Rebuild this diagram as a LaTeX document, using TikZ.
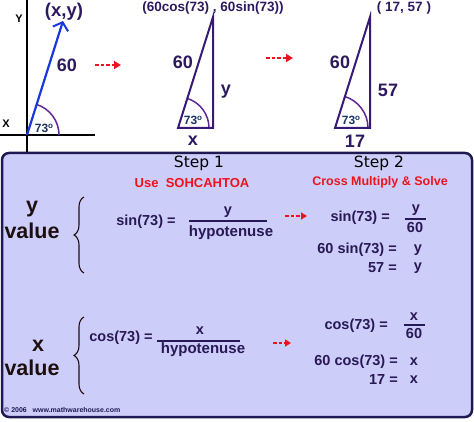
\documentclass[tikz,border=0pt]{standalone}
\usepackage{fontspec}
\setmainfont{Liberation Sans}
\newfontfamily\verd{DejaVu Sans}
\usetikzlibrary{arrows.meta,decorations.pathreplacing,calc}
\definecolor{darkp}{RGB}{45,25,95}
\definecolor{eqc}{RGB}{40,25,85}
\definecolor{angc}{RGB}{25,50,100}
\definecolor{trip}{RGB}{55,25,120}
\definecolor{arcp}{RGB}{95,40,150}
\definecolor{blk}{RGB}{30,15,15}
\definecolor{boxfill}{RGB}{205,205,250}
\definecolor{boxline}{RGB}{30,25,80}
\definecolor{arrb}{RGB}{25,55,220}
\definecolor{redc}{RGB}{235,20,30}
\newcommand{\fs}[1]{\fontsize{#1}{#1}\selectfont}
\newcommand{\degsym}{\raisebox{0.55ex}{\fs{8}o}}
\tikzset{
  txt/.style={inner sep=0pt, text=darkp, font=\bfseries\fs{18}},
  coord/.style={inner sep=0pt, text=darkp, font=\bfseries\fs{13.5}},
  ang/.style={inner sep=0pt, text=angc, font=\bfseries\fs{12}},
  eq/.style={inner sep=0pt, text=eqc, font=\bfseries\fs{14.5}},
  big/.style={inner sep=0pt, text=blk, font=\bfseries\fs{21.5}},
  steplbl/.style={inner sep=0pt, text=black, font=\verd\fs{15.5}},
  redlbl/.style={inner sep=0pt, text=redc, font=\bfseries\fs{12.5}},
  axis/.style={line width=2pt, black},
  tri/.style={line width=2pt, trip, line join=miter},
  arcst/.style={line width=1.5pt, arcp},
  redarrow/.style={line width=2.2pt, redc, dash pattern=on 3.5pt off 2pt, -{Triangle[length=7pt,width=8pt]}},
  fracline/.style={line width=1.8pt, eqc},
  bracest/.style={line width=1.1pt, blk, decorate, decoration={brace, amplitude=10pt}},
}
\begin{document}
\begin{tikzpicture}[x=1pt,y=-1pt]
\useasboundingbox (0,0) rectangle (474,422);

% ---------- box ----------
\draw[line width=2.5pt, boxline, fill=boxfill, rounded corners=7pt] (2,153) rectangle (472,417);

% ---------- axes ----------
\coordinate (ytop) at (27,0);
\coordinate (ybot) at (27,152);
\coordinate (xl) at (0,135);
\coordinate (xr) at (95,135);
\coordinate (O) at (27,135);
\draw[axis] (ytop) -- (ybot);
\draw[axis] (xl) -- (xr);
\node[inner sep=0pt, font=\bfseries\fs{11}] (Ylab) at (19,19) {Y};
\node[inner sep=0pt, font=\bfseries\fs{11}] (Xlab) at (6,124) {X};
\coordinate (P) at (63,21);
\draw[arcst] ($(O)+(32,0)$) arc (0:-73:32);
\draw[line width=2.2pt, arrb, -{Straight Barb[length=7pt,width=16pt,line width=2pt]}] (O) -- (P);
\node[txt, font=\bfseries\fs{18.5}] (xy) at (64,12) {(x,y)};
\node[txt] (l60a) at (67,65) {60};
\node[ang] (ang1) at (44,128) {73\degsym};

\coordinate (r1a) at (95,65);
\coordinate (r1b) at (121,65);
\draw[redarrow] (r1a) -- (r1b);

% ---------- triangle 2 ----------
\coordinate (A2) at (178,128);
\coordinate (B2) at (213,128);
\coordinate (C2) at (213,17);
\draw[arcst] ($(A2)+(31,0)$) arc (0:-73:31);
\draw[tri] (A2) -- (B2) -- (C2) -- cycle;
\node[coord] (c2) at (213,8) {(60cos(73) , 60sin(73))};
\node[txt] (l60b) at (183,62) {60};
\node[txt] (ly2) at (226,92) {y};
\node[txt] (lx2) at (193,141) {x};
\node[ang] (ang2) at (193,120) {73\degsym};

\coordinate (r2a) at (266,58);
\coordinate (r2b) at (293,58);
\draw[redarrow] (r2a) -- (r2b);

% ---------- triangle 3 ----------
\coordinate (A3) at (335,128);
\coordinate (B3) at (370,128);
\coordinate (C3) at (370,17);
\draw[arcst] ($(A3)+(33,0)$) arc (0:-73:33);
\draw[tri] (A3) -- (B3) -- (C3) -- cycle;
\node[coord] (c3) at (404,8) {( 17, 57 )};
\node[txt] (l60c) at (340,62) {60};
\node[txt] (l57) at (388,90) {57};
\node[txt] (l17) at (355,141) {17};
\node[ang] (ang3) at (351,120) {73\degsym};

% ---------- step headings ----------
\node[steplbl] (s1) at (199,163) {Step 1};
\node[redlbl, font=\bfseries\fs{13}] (s1r) at (192,183) {Use\ \ SOHCAHTOA};
\node[steplbl] (s2) at (379,163) {Step 2};
\node[redlbl] (s2r) at (380,182) {Cross Multiply \& Solve};

% ---------- y value ----------
\node[big] (yv1) at (32,209) {y};
\node[big] (yv2) at (32,231) {value};
\coordinate (b1a) at (84,273);
\coordinate (b1b) at (84,197);
\draw[bracest] (b1a) -- (b1b);

\node[eq] (sin1) at (146,222) {sin(73) =};
\node[eq] (sinn) at (228,212) {y};
\coordinate (f1a) at (189,221);
\coordinate (f1b) at (267,221);
\draw[fracline] (f1a) -- (f1b);
\node[eq, font=\bfseries\fs{15}] (sind) at (231,233) {hypotenuse};

\coordinate (r3a) at (285,216);
\coordinate (r3b) at (307,216);
\draw[redarrow, line width=1.6pt, -{Triangle[length=6pt,width=7pt]}] (r3a) -- (r3b);

\node[eq, anchor=east] (sin2) at (390,218) {sin(73) =};
\node[eq] (sin2n) at (416,210) {y};
\coordinate (f2a) at (405,219);
\coordinate (f2b) at (426,219);
\draw[fracline] (f2a) -- (f2b);
\node[eq] (sin2d) at (415,228) {60};
\node[eq, anchor=east] (sin3) at (397,250) {60 sin(73) =};
\node[eq] (sin3y) at (418,250) {y};
\node[eq, anchor=east] (sin4) at (397,268) {57 =};
\node[eq] (sin4y) at (418,268) {y};

% ---------- x value ----------
\node[big] (xv1) at (38,346) {x};
\node[big] (xv2) at (32,368) {value};
\coordinate (b2a) at (84,394);
\coordinate (b2b) at (84,317);
\draw[bracest] (b2a) -- (b2b);

\node[eq] (cos1) at (121,338) {cos(73) =};
\node[eq] (cosn) at (200,331) {x};
\coordinate (f3a) at (157,341);
\coordinate (f3b) at (240,341);
\draw[fracline] (f3a) -- (f3b);
\node[eq, font=\bfseries\fs{15}] (cosd) at (203,350) {hypotenuse};

\coordinate (r4a) at (273,343);
\coordinate (r4b) at (291,343);
\draw[redarrow, line width=1.6pt, -{Triangle[length=6pt,width=7pt]}] (r4a) -- (r4b);

\node[eq, anchor=east] (cos2) at (388,326) {cos(73) =};
\node[eq] (cos2n) at (414,317) {x};
\coordinate (f4a) at (404,325);
\coordinate (f4b) at (425,325);
\draw[fracline] (f4a) -- (f4b);
\node[eq] (cos2d) at (414,334) {60};
\node[eq, anchor=east] (cos3) at (398,362) {60 cos(73) =};
\node[eq] (cos3x) at (414,362) {x};
\node[eq, anchor=east] (cos4) at (398,380) {17 =};
\node[eq] (cos4x) at (414,380) {x};

% ---------- copyright ----------
\node[inner sep=0pt, anchor=west, text=boxline, font=\bfseries\fs{7}] (copy) at (4,410) {\textcopyright\ 2006\ \ \ www.mathwarehouse.com};
\end{tikzpicture}
\end{document}
